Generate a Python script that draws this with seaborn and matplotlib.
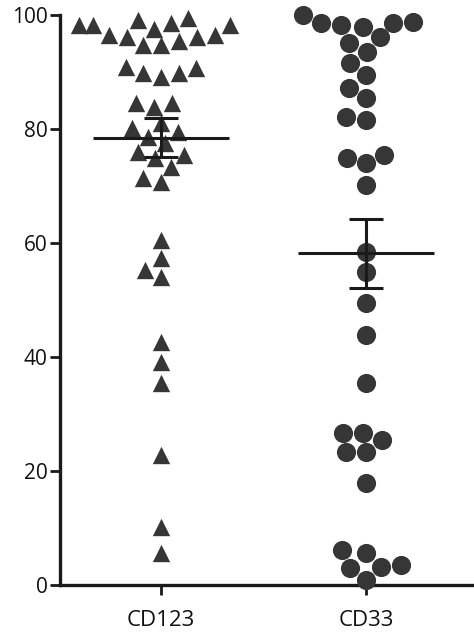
import matplotlib
matplotlib.use("Agg")
import matplotlib.pyplot as plt
import seaborn as sns
import pandas as pd
import numpy as np

groups = ["CD123", "CD33"]

cd123_values = [98.2, 98.2, 96.1, 99.1, 99.5, 96.5, 96.5, 94.7, 94.7, 98.2, 96.1, 98.6,
                97.5, 95.5,
                90.7, 89.8, 89.1, 89.8, 90.9,
                84.6, 83.9, 84.6,
                81.1, 79.5, 80.2, 78.6, 77.5, 76.0, 75.4, 74.9, 73.3, 70.7, 71.4,
                60.5, 57.4, 55.3, 54.0, 42.6, 39.1, 35.4, 22.8, 10.2, 5.6]

cd33_values = [98.2, 100.0, 96.1, 98.6, 98.6, 98.8, 97.9, 95.1, 93.5, 91.6,
               89.5, 87.2, 85.4, 81.6, 82.1, 74.9, 75.4, 74.0, 70.2,
               58.4, 54.9, 49.5, 43.9, 35.4,
               26.7, 23.3, 23.3, 25.4, 26.7, 17.9,
               5.6, 3.2, 6.1, 3.0, 3.5, 0.9]

# mean and error bar ends
means = [78.4, 58.2]
err_low = [75.1, 52.1]
err_high = [81.9, 64.2]

y_ticks = [0, 20, 40, 60, 80, 100]

df = pd.DataFrame({
    "group": ["CD123"] * len(cd123_values) + ["CD33"] * len(cd33_values),
    "value": cd123_values + cd33_values,
})

sns.set_style("ticks")
plt.rcParams["font.family"] = ["Open Sans", "DejaVu Sans"]

W, H = 474, 634
fig = plt.figure(figsize=(W / 100, H / 100), dpi=100)
ax = fig.add_axes([60 / W, 1 - 585 / H, (W - 60) / W, (585 - 15) / H])

mark_color = "#363636"
sns.swarmplot(data=df[df.group == "CD123"], x="group", y="value", order=groups,
              marker="^", size=12.5, color=mark_color, linewidth=0, ax=ax,
              clip_on=False, zorder=3)
sns.swarmplot(data=df[df.group == "CD33"], x="group", y="value", order=groups,
              marker="o", size=13.8, color=mark_color, linewidth=0, ax=ax,
              clip_on=False, zorder=3)

line_color = "#1a1a1a"
for i, g in enumerate(groups):
    ax.hlines(means[i], i - 0.334, i + 0.334, color=line_color, lw=2.2, zorder=4)
    ax.vlines(i, err_low[i], err_high[i], color=line_color, lw=2.2, zorder=4)
    ax.hlines([err_low[i], err_high[i]], i - 0.085, i + 0.085, color=line_color, lw=2.2, zorder=4)

ax.set_xlim(-0.493, 1.527)
ax.set_ylim(0, 100)
ax.set_yticks(y_ticks)
ax.set_yticklabels([str(t) for t in y_ticks], fontsize=15)
ax.set_xticks(range(len(groups)))
ax.set_xticklabels(groups, fontsize=16)
ax.set_xlabel("")
ax.set_ylabel("")

for side in ["top", "right"]:
    ax.spines[side].set_visible(False)
for side in ["left", "bottom"]:
    ax.spines[side].set_linewidth(2.4)
    ax.spines[side].set_color("#1a1a1a")
ax.tick_params(axis="both", width=2.0, length=7, color="#1a1a1a", labelcolor="#111111")
ax.tick_params(axis="y", pad=2)
ax.tick_params(axis="x", pad=11)

fig.savefig("out.png", dpi=100)
